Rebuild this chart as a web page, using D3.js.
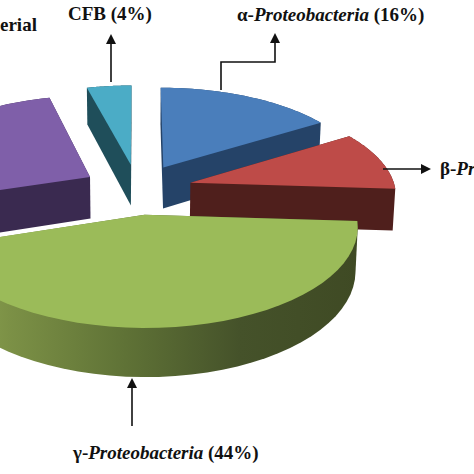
<!DOCTYPE html>
<html>
<head>
<meta charset="utf-8">
<script src="https://cdnjs.cloudflare.com/ajax/libs/d3/7.8.5/d3.min.js"></script>
<style>
  html, body { margin: 0; padding: 0; background: #fff; overflow: hidden; }
  text { font-family: "Liberation Serif", serif; font-weight: bold; font-size: 19px; fill: #111; }
</style>
</head>
<body>
<svg id="chart" width="474" height="474"></svg>
<script>
// slices, clockwise from twelve o'clock
const names = ['alpha', 'beta', 'gamma', 'other', 'cfb'];
const shares = [16, 10, 44, 26, 4];
const topColors = ['#4a7ebb', '#be4b48', '#9bbb59', '#7f5fa9', '#4bacc6'];
const sideColors = ['#254368', '#4f1f1c', 'url(#gammaSide)', '#3a2a50', '#1f4e5a'];
const drawOrder = ['cfb', 'other', 'alpha', 'beta', 'gamma'];

// fake 3d settings
const cx = 137.5, cy = 189;
const radius = 205, explode = 55, depth = 42;
const tilt = 0.457, perspective = 1776;

const svg = d3.select('#chart');

const grad = svg.append('defs').append('linearGradient').attr('id', 'gammaSide');
grad.selectAll('stop')
    .data([[0, '#93aa55'], [0.17, '#7c9146'], [0.45, '#5f7236'], [0.72, '#45522a'], [1, '#3f4a24']])
    .join('stop')
    .attr('offset', d => d[0])
    .attr('stop-color', d => d[1]);

const pie = d3.pie().sort(null).value(d => d)(shares);
const color = d3.scaleOrdinal().domain(names).range(topColors);
const side = d3.scaleOrdinal().domain(names).range(sideColors);

// ground plane -> screen
function project(u, v, drop) {
    const s = 1 / (1 + v / perspective);
    const shrink = drop ? 0.99 : 1;
    return [cx + u * s * shrink, cy - tilt * v * s + drop * s];
}

function outline(slice, drop) {
    const mid = (slice.startAngle + slice.endAngle) / 2;
    const ox = explode * Math.sin(mid), oy = explode * Math.cos(mid);
    const pts = [project(ox, oy, drop)];
    d3.range(0, 41).forEach(i => {
        const a = slice.startAngle + (slice.endAngle - slice.startAngle) * i / 40;
        pts.push(project(ox + radius * Math.sin(a), oy + radius * Math.cos(a), drop));
    });
    return pts;
}

const line = d3.line().curve(d3.curveLinearClosed);

drawOrder.forEach(name => {
    const slice = pie[names.indexOf(name)];
    const top = outline(slice, 0);
    const bottom = outline(slice, depth);
    const g = svg.append('g').attr('class', 'slice-' + name);
    g.append('path')
        .attr('d', line(d3.polygonHull(top.concat(bottom))))
        .attr('fill', side(name));
    g.append('path')
        .attr('d', line(top))
        .attr('fill', color(name));
});

// leader arrows
const arrows = [
    [[221, 90], [221, 62], [275, 62], [275, 42]],
    [[111, 82], [111, 43]],
    [[383, 169], [422, 169]],
    [[132, 426], [132, 386]]
];
const heads = [[275, 33, 0], [111, 34, 0], [431, 169, 90], [132, 378, 0]];

svg.selectAll('.leader')
    .data(arrows)
    .join('path')
    .attr('class', 'leader')
    .attr('d', d3.line())
    .attr('fill', 'none')
    .attr('stroke', '#111')
    .attr('stroke-width', 1.6);

svg.selectAll('.head')
    .data(heads)
    .join('path')
    .attr('class', 'head')
    .attr('d', 'M0,0L5,10L-5,10Z')
    .attr('fill', '#111')
    .attr('transform', d => `translate(${d[0]},${d[1]}) rotate(${d[2]})`);

// labels, the outer two run off the edge of the picture
function label(x, y, parts) {
    const t = svg.append('text').attr('x', x).attr('y', y);
    parts.forEach(p => {
        t.append('tspan').attr('font-style', p[1] ? 'italic' : 'normal').text(p[0]);
    });
}
label(0, 31, [['erial', false]]);
label(68, 20, [['CFB (4%)', false]]);
label(237, 21, [['α-', false], ['Proteobacteria', true], [' (16%)', false]]);
label(440, 175, [['β-', false], ['Pr', true]]);
label(73, 459, [['γ-', false], ['Proteobacteria', true], [' (44%)', false]]);
</script>
</body>
</html>
